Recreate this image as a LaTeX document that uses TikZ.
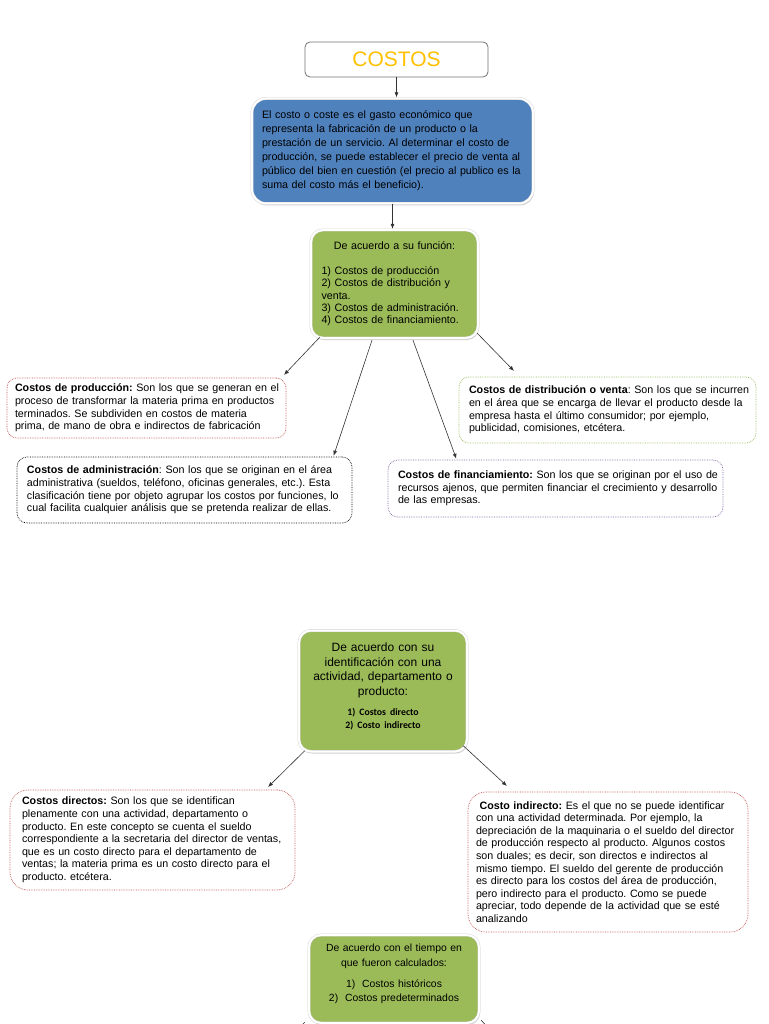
\documentclass[tikz,border=0pt]{standalone}
\usepackage{fontspec}
\setmainfont{Liberation Sans}
\newfontfamily\calfont{Carlito}
\usetikzlibrary{shadows,calc,arrows.meta}
\definecolor{blueF}{HTML}{4F81BD}
\definecolor{greenF}{HTML}{9BBB59}
\definecolor{redD}{HTML}{C0504D}
\definecolor{olvD}{HTML}{9BBB59}
\definecolor{purD}{HTML}{8064A2}
\definecolor{goldT}{HTML}{FFC000}
\newcommand\tl[1]{\makebox[\linewidth][l]{#1}}
\frenchspacing
\begin{document}
\begin{tikzpicture}[x=1pt,y=-1pt,
 arr/.style={draw=black!80, line width=0.6pt, -{Latex[length=5pt,width=4pt]}, shorten >=1pt},
 fillbox/.style={rounded corners=12pt, draw=black!18, double=white, double distance=2pt,
   drop shadow={opacity=0.35, shadow xshift=1pt, shadow yshift=-2pt}, inner sep=0pt, align=left},
 dotbox/.style={rounded corners=10pt, densely dotted, line width=0.7pt, inner ysep=0pt, align=left,
   font=\fontsize{10.7}{12.6}\selectfont},
]
\useasboundingbox (0,0) rectangle (768,1024);
\fill[white] (0,0) rectangle (768,1024);

\node[draw=black!55, line width=0.8pt, rounded corners=5pt, minimum width=183pt, minimum height=35pt,
  inner sep=0pt, font=\fontsize{21}{24}\selectfont, text=goldT] (costos) at (396.5,59.5) {COSTOS};

\node[fillbox, fill=blueF, minimum width=281pt, minimum height=105pt, text width=261pt, rounded corners=14pt,
  font=\fontsize{10.7}{14}\selectfont] (blue) at (392.5,151)
 {\tl{El costo o coste es el gasto económico que}\\
  \tl{representa la fabricación de un producto o la}\\
  \tl{prestación de un servicio. Al determinar el costo de}\\
  \tl{producción, se puede establecer el precio de venta al}\\
  \tl{público del bien en cuestión (el precio al publico es la}\\
  \tl{suma del costo más el beneficio).}};

\node[fillbox, fill=greenF, minimum width=167pt, minimum height=108pt, text width=146pt,
  font=\fontsize{10.7}{12.3}\selectfont] (g1) at (394.5,284)
 {\makebox[\linewidth][c]{De acuerdo a su función:}\\[12.3pt]
  \tl{1) Costos de producción}\\
  \tl{2) Costos de distribución y}\\
  \tl{venta.}\\
  \tl{3) Costos de administración.}\\
  \tl{4) Costos de financiamiento.}};

\node[dotbox, draw=redD, minimum width=279pt, minimum height=60pt, text width=263pt, inner xsep=8pt] (prod) at (146.5,408)
 {\tl{\textbf{Costos de producción:} Son los que se generan en el}\\
  \tl{proceso de transformar la materia prima en productos}\\
  \tl{terminados. Se subdividen en costos de materia}\\
  \tl{prima, de mano de obra e indirectos de fabricación}};

\node[dotbox, draw=olvD, minimum width=297pt, minimum height=66pt, text width=277pt, inner xsep=10pt] (dist) at (607.5,410)
 {\tl{\textbf{Costos de distribución o venta}: Son los que se incurren}\\
  \tl{en el área que se encarga de llevar el producto desde la}\\
  \tl{empresa hasta el último consumidor; por ejemplo,}\\
  \tl{publicidad, comisiones, etcétera.}};

\node[dotbox, draw=black, minimum width=335pt, minimum height=66pt, text width=315pt, inner xsep=10pt] (adm) at (184.5,490)
 {\tl{\textbf{Costos de administración}: Son los que se originan en el área}\\
  \tl{administrativa (sueldos, teléfono, oficinas generales, etc.). Esta}\\
  \tl{clasificación tiene por objeto agrupar los costos por funciones, lo}\\
  \tl{cual facilita cualquier análisis que se pretenda realizar de ellas.}};

\node[dotbox, draw=purD, minimum width=335pt, minimum height=57pt, text width=315pt, inner xsep=10pt] (fin) at (555.5,488.5)
 {\tl{\textbf{Costos de financiamiento:} Son los que se originan por el uso de}\\
  \tl{recursos ajenos, que permiten financiar el crecimiento y desarrollo}\\
  \tl{de las empresas.}};

\node[fillbox, fill=greenF, minimum width=168pt, minimum height=121pt, text width=162pt, align=center,
  font=\fontsize{12}{14.7}\selectfont] (g2) at (383,691)
 {De acuerdo con su\\ identificación con una\\ actividad, departamento o\\ producto:\par\vspace{7pt}
  {\calfont\bfseries\fontsize{9.8}{13}\selectfont 1)\ Costos directo\\ 2)\ Costo indirecto\par}\vspace{9pt}\hrule height 0pt};

\node[dotbox, draw=redD, rounded corners=18pt, minimum width=285pt, minimum height=100pt, text width=261pt, inner xsep=12pt] (dirs) at (152.5,840)
 {\tl{\textbf{Costos directos:} Son los que se identifican}\\
  \tl{plenamente con una actividad, departamento o}\\
  \tl{producto. En este concepto se cuenta el sueldo}\\
  \tl{correspondiente a la secretaria del director de ventas,}\\
  \tl{que es un costo directo para el departamento de}\\
  \tl{ventas; la materia prima es un costo directo para el}\\
  \tl{producto. etcétera.}};

\node[dotbox, draw=redD, rounded corners=18pt, minimum width=280pt, minimum height=140pt, text width=264pt, inner xsep=8pt] (ind) at (608,862)
 {\tl{\ \textbf{Costo indirecto:} Es el que no se puede identificar}\\
  \tl{con una actividad determinada. Por ejemplo, la}\\
  \tl{depreciación de la maquinaria o el sueldo del director}\\
  \tl{de producción respecto al producto. Algunos costos}\\
  \tl{son duales; es decir, son directos e indirectos al}\\
  \tl{mismo tiempo. El sueldo del gerente de producción}\\
  \tl{es directo para los costos del área de producción,}\\
  \tl{pero indirecto para el producto. Como se puede}\\
  \tl{apreciar, todo depende de la actividad que se esté}\\
  \tl{analizando}};

\node[fillbox, fill=greenF, minimum width=170pt, minimum height=88pt, text width=162pt, align=center,
  font=\fontsize{10.4}{15}\selectfont] (g3) at (394,979)
 {De acuerdo con el tiempo en\\ que fueron calculados:\par\vspace{7pt}
  {\fontsize{10.4}{14}\selectfont 1)\ \ Costos históricos\\ 2)\ \ Costos predeterminados\par}\vspace{10pt}\hrule height 0pt};

\coordinate (offL) at (262,1066);
\coordinate (offR) at (522,1066);

\draw[arr] (costos.south) -- (costos.south |- blue.north);
\draw[arr] (blue.south) -- (blue.south |- g1.north);
\draw[arr] ($(g1.south west)+(9,-1)$) -- ($(prod.north east)+(-3,-2)$);
\draw[arr] ($(g1.south)+(-22.5,2)$) -- ($(adm.north east)+(-19,0)$);
\draw[arr] ($(g1.south)+(18.5,2)$) -- ($(fin.north west)+(69,0)$);
\draw[arr] ($(g1.south east)+(-1,-5)$) -- ($(dist.north west)+(56,-5)$);
\draw[arr] ($(g2.south west)+(6,-1)$) -- ($(dirs.north east)+(-28,-2)$);
\draw[arr] ($(g2.south east)+(-4,-6)$) -- ($(ind.north west)+(40,-5)$);
\draw[arr] ($(g3.south west)+(-4,-1)$) -- (offL);
\draw[arr] ($(g3.south east)+(2,-3)$) -- (offR);
\end{tikzpicture}
\end{document}
